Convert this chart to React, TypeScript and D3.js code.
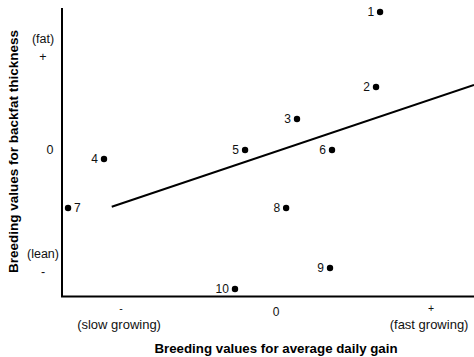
import React from "react";
import * as d3 from "d3";

const pointIds = ["1", "2", "3", "4", "5", "6", "7", "8", "9", "10"];
const gainValues = [0.671, 0.645, 0.135, -1.11, -0.2, 0.361, -1.342, 0.065, 0.348, -0.265];
const backfatValues = [1.38, 0.63, 0.31, -0.09, 0.0, 0.0, -0.58, -0.58, -1.18, -1.39];
const labelSide = ["left", "left", "left", "left", "left", "left", "right", "left", "left", "left"];
const trendX = [-1.06, 1.277];
const trendY = [-0.567, 0.65];
const xTickValues = [-1, 0, 1];
const xTickLabels = ["-", "0", "+"];
const xTickSubLabels = ["(slow growing)", "", "(fast growing)"];
const yTickValues = [0.93, 0, -1.22];
const yTickLabels = ["+", "0", "-"];
const yTickSubLabels = ["(fat)", "", "(lean)"];
const xTitle = "Breeding values for average daily gain";
const yTitle = "Breeding values for backfat thickness";

const W = 474;
const H = 357;
const FONT = "'Liberation Sans', Arial, sans-serif";

export default function App() {
  const x = d3.scaleLinear().domain([-1.381, 1.277]).range([62, 474]);
  const y = d3.scaleLinear().domain([-1.465, 1.42]).range([296.5, 8]);
  const line = d3.line<number>().x((_, i) => x(trendX[i])).y((_, i) => y(trendY[i]));

  return (
    <div style={{ position: "fixed", left: 0, top: 0 }}>
      <svg width={W} height={H} style={{ display: "block", background: "#fff" }} fontFamily={FONT}>
        {/* axes */}
        <line x1={x(-1.381)} x2={x(-1.381)} y1={y(1.42)} y2={y(-1.465)} stroke="#000" strokeWidth={2} />
        <line x1={x(-1.381) - 1} x2={W} y1={y(-1.465)} y2={y(-1.465)} stroke="#000" strokeWidth={2} />

        {/* trend line */}
        <path d={line(trendX) || ""} fill="none" stroke="#000" strokeWidth={2} />

        {/* points */}
        {pointIds.map((id, i) => {
          const cx = x(gainValues[i]);
          const cy = y(backfatValues[i]);
          const right = labelSide[i] === "right";
          return (
            <g key={id}>
              <circle cx={cx} cy={cy} r={3.2} fill="#000" />
              <text
                x={right ? cx + 6 : cx - 6}
                y={cy + 4.2}
                fontSize={12}
                textAnchor={right ? "start" : "end"}
                fill="#111"
              >
                {id}
              </text>
            </g>
          );
        })}

        {/* x ticks */}
        {xTickValues.map((v, i) => (
          <g key={"xt" + i}>
            <text x={x(v)} y={i === 1 ? 316 : 312} fontSize={i === 1 ? 12 : 10.5} textAnchor="middle" fill="#111">
              {xTickLabels[i]}
            </text>
            {xTickSubLabels[i] && (
              <text x={x(v) - 2} y={329} fontSize={13} textAnchor="middle" fill="#111">
                {xTickSubLabels[i]}
              </text>
            )}
          </g>
        ))}

        {/* y ticks */}
        {yTickValues.map((v, i) => (
          <g key={"yt" + i}>
            {yTickSubLabels[i] && (
              <text x={43} y={y(v) - 14} fontSize={12.5} textAnchor="middle" fill="#111">
                {yTickSubLabels[i]}
              </text>
            )}
            <text x={i === 1 ? 50 : 43} y={y(v) + 4} fontSize={12.5} textAnchor="middle" fill="#111">
              {yTickLabels[i]}
            </text>
          </g>
        ))}

        {/* titles */}
        <text x={276} y={353} fontSize={13.3} fontWeight="bold" textAnchor="middle" fill="#000">
          {xTitle}
        </text>
        <text
          transform={`translate(18, 151.5) rotate(-90)`}
          fontSize={13.5}
          fontWeight="bold"
          textAnchor="middle"
          fill="#000"
        >
          {yTitle}
        </text>
      </svg>
    </div>
  );
}
